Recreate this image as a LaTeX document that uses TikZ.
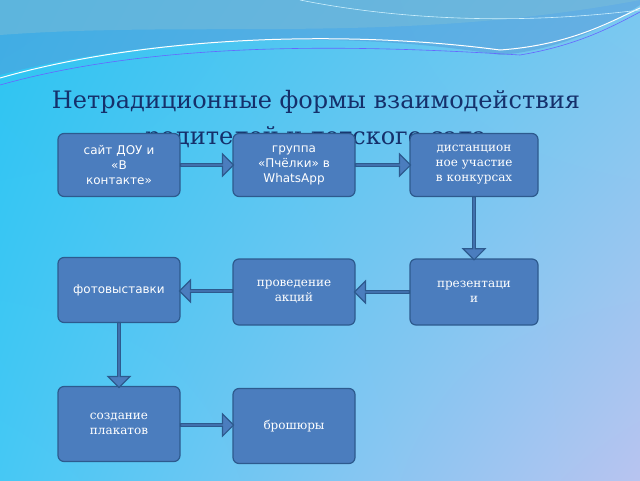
\documentclass[tikz,border=0pt]{standalone}
\usepackage{fontspec}
\setmainfont{DejaVu Serif}
\newfontfamily\boxsans{DejaVu Sans}
\usetikzlibrary{shapes.arrows,calc,shadings}
\definecolor{boxblue}{HTML}{4B7DBE}
\definecolor{boxline}{HTML}{2D5A8E}
\definecolor{titleblue}{HTML}{15306B}
\definecolor{bgul}{RGB}{44,196,242}
\definecolor{bgur}{RGB}{120,200,240}
\definecolor{bgll}{RGB}{70,200,244}
\definecolor{bglr}{RGB}{184,196,240}
\tikzset{
  formbox/.style={draw=boxline,line width=1.2pt,fill=boxblue,rounded corners=6pt,
    text=white,font=\fontsize{12}{15}\selectfont,align=center,inner sep=2pt},
  blockarr/.style={single arrow,draw=boxline,line width=1.2pt,fill=boxblue,
    minimum width=22pt,single arrow head extend=5pt,inner sep=0pt,
    single arrow head indent=0pt}
}
\begin{document}
\begin{tikzpicture}[x=1pt,y=-1pt]
  \useasboundingbox (0,0) rectangle (640,480);
  % background
  \shade[upper left=bgul,upper right=bgur,lower left=bgll,lower right=bglr]
    (0,0) rectangle (640,480);
  \fill[cyan!60!blue!70,opacity=0.5] (0,0) -- (0,75) .. controls (150,35) and (350,30) .. (500,55)
    .. controls (560,50) and (610,25) .. (640,5) -- (640,0) -- cycle;
  \fill[cyan!50!teal!60,opacity=0.5] (0,0) -- (0,35) .. controls (200,20) and (400,45) .. (640,0) -- cycle;
  \draw[white,line width=1pt] (0,78) .. controls (150,35) and (350,30) .. (500,50) .. controls (570,45) and (610,22) .. (640,8);
  \draw[blue!60,line width=0.6pt] (0,85) .. controls (160,40) and (360,45) .. (520,55) .. controls (580,45) and (615,25) .. (640,12);
  \draw[white!80!cyan,line width=0.6pt] (300,0) .. controls (400,20) and (520,25) .. (640,10);

  % title
  \node[text=titleblue,font=\fontsize{24}{36}\selectfont,align=center] (title) at (316,120)
    {Нетрадиционные формы взаимодействия\\родителей и детского сада};

  % forms
  \node[formbox,font=\boxsans\fontsize{12}{15}\selectfont,minimum width=122pt,minimum height=63pt,text width=112pt] (site) at (119,165) {сайт ДОУ и\\«В\\контакте»};
  \node[formbox,font=\boxsans\fontsize{12}{15}\selectfont,minimum width=122pt,minimum height=63pt,text width=112pt] (group) at (294,165) {группа\\«Пчёлки» в\\WhatsApp};
  \node[formbox,minimum width=128pt,minimum height=63pt,text width=120pt] (remote) at (474,165) {дистанцион\\ное участие\\в конкурсах};
  \node[formbox,font=\boxsans\fontsize{12}{15}\selectfont,minimum width=122pt,minimum height=65pt,text width=112pt] (photo) at (119,290) {фотовыставки\\[12pt]};
  \node[formbox,minimum width=122pt,minimum height=66pt,text width=112pt] (actions) at (294,292) {проведение\\акций};
  \node[formbox,minimum width=128pt,minimum height=66pt,text width=120pt] (present) at (474,292) {презентаци\\и};
  \node[formbox,minimum width=122pt,minimum height=75pt,text width=112pt] (posters) at (119,424) {создание\\плакатов};
  \node[formbox,minimum width=122pt,minimum height=75pt,text width=112pt] (brochure) at (294,426) {брошюры};

  % arrows
  \node[blockarr,minimum height=53pt] (a12) at ($(site.east)!0.5!(group.west)$) {};
  \node[blockarr,minimum height=55pt] (a23) at ($(group.east)!0.5!(remote.west)$) {};
  \node[blockarr,minimum height=63pt,shape border rotate=270] (a36) at ($(remote.south)!0.5!(present.north)$) {};
  \node[blockarr,minimum height=55pt,shape border rotate=180] (a65) at ($(present.west)!0.5!(actions.east)$) {};
  \node[blockarr,minimum height=53pt,shape border rotate=180] (a54) at ($(actions.west)!0.5!(photo.east)$) {};
  \node[blockarr,minimum height=65pt,shape border rotate=270] (a47) at ($(photo.south)!0.5!(posters.north)$) {};
  \node[blockarr,minimum height=53pt] (a78) at ($(posters.east)!0.5!(brochure.west)$) {};
\end{tikzpicture}
\end{document}
